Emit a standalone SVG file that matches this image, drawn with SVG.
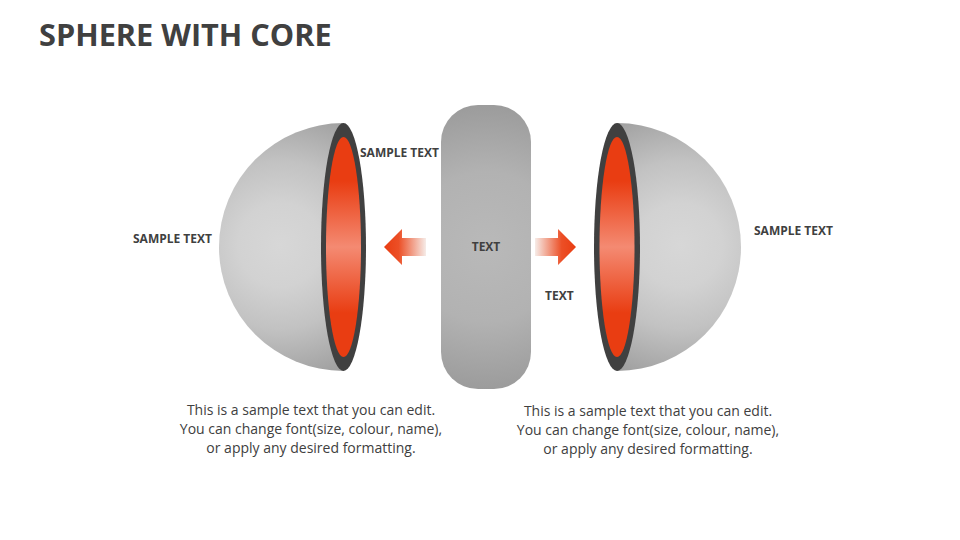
<svg xmlns="http://www.w3.org/2000/svg" width="960" height="540" viewBox="0 0 960 540">
<style>
text{font-family:"Open Sans","Noto Sans","Liberation Sans",sans-serif;fill:#404040}
.b{font-weight:700;font-size:12px}
.t{font-weight:700;font-size:30.700px}
.p{font-size:14px;text-anchor:middle}
.o{fill:#404040}
.i{fill:url(#core)}
</style>
<defs>
<radialGradient id="sl" gradientUnits="userSpaceOnUse" cx="280" cy="245" r="140">
<stop offset="0" stop-color="#d7d7d7"/><stop offset=".3" stop-color="#d2d2d2"/><stop offset=".6" stop-color="#c2c2c2"/><stop offset="1" stop-color="#9e9e9e"/>
</radialGradient>
<radialGradient id="sr" gradientUnits="userSpaceOnUse" cx="680" cy="245" r="140">
<stop offset="0" stop-color="#d7d7d7"/><stop offset=".3" stop-color="#d2d2d2"/><stop offset=".6" stop-color="#c2c2c2"/><stop offset="1" stop-color="#9e9e9e"/>
</radialGradient>
<radialGradient id="mid" gradientUnits="userSpaceOnUse" cx="486" cy="247" r="150">
<stop offset="0" stop-color="#b9b9b9"/><stop offset=".5" stop-color="#b2b2b2"/><stop offset="1" stop-color="#999999"/>
</radialGradient>
<linearGradient id="core" x1="0" y1="0" x2="0" y2="1">
<stop offset="0" stop-color="#e93d12"/><stop offset=".2" stop-color="#e93d12"/><stop offset=".5" stop-color="#f48a72"/><stop offset=".8" stop-color="#e93d12"/><stop offset="1" stop-color="#e93d12"/>
</linearGradient>
<linearGradient id="al" x1="0" y1="0" x2="1" y2="0">
<stop offset="0" stop-color="#e93d12"/><stop offset=".35" stop-color="#ec4f26"/><stop offset="1" stop-color="#f6ece8"/>
</linearGradient>
<linearGradient id="ar" x1="1" y1="0" x2="0" y2="0">
<stop offset="0" stop-color="#e93d12"/><stop offset=".35" stop-color="#ec4f26"/><stop offset="1" stop-color="#f6ece8"/>
</linearGradient>
</defs>
<text id="title" class="t" x="39" y="46">SPHERE WITH CORE</text>
<g id="left-sphere">
<path d="M343.500 123A124.500 124 0 0 0 343.500 371Z" fill="url(#sl)"/>
<ellipse class="o" cx="343.500" cy="247" rx="22.500" ry="124"/>
<ellipse class="i" cx="343.500" cy="247" rx="17.500" ry="110"/>
</g>
<g id="right-sphere">
<path d="M617 123A124 124 0 0 1 617 371Z" fill="url(#sr)"/>
<ellipse class="o" cx="617" cy="247" rx="23" ry="124"/>
<ellipse class="i" cx="617" cy="247" rx="17.500" ry="110"/>
</g>
<g id="core-block">
<rect x="441" y="105" width="90" height="284" rx="37" fill="url(#mid)"/>
<text class="b" x="486" y="251" text-anchor="middle">TEXT</text>
</g>
<g id="connectors">
<path d="M384 247L402 229V238H426V256H402V265Z" fill="url(#al)"/>
<path d="M576 247L558 229V238H535V256H558V265Z" fill="url(#ar)"/>
</g>
<g id="labels">
<text class="b" x="133" y="243">SAMPLE TEXT</text>
<text class="b" x="360" y="157">SAMPLE TEXT</text>
<text class="b" x="754" y="235">SAMPLE TEXT</text>
<text class="b" x="545" y="300">TEXT</text>
</g>
<g id="left-note">
<text class="p" x="311" y="415">This is a sample text that you can edit.</text>
<text class="p" x="311" y="434">You can change font(size, colour, name),</text>
<text class="p" x="311" y="453">or apply any desired formatting.</text>
</g>
<g id="right-note">
<text class="p" x="648" y="416">This is a sample text that you can edit.</text>
<text class="p" x="648" y="435">You can change font(size, colour, name),</text>
<text class="p" x="648" y="454">or apply any desired formatting.</text>
</g>
</svg>
